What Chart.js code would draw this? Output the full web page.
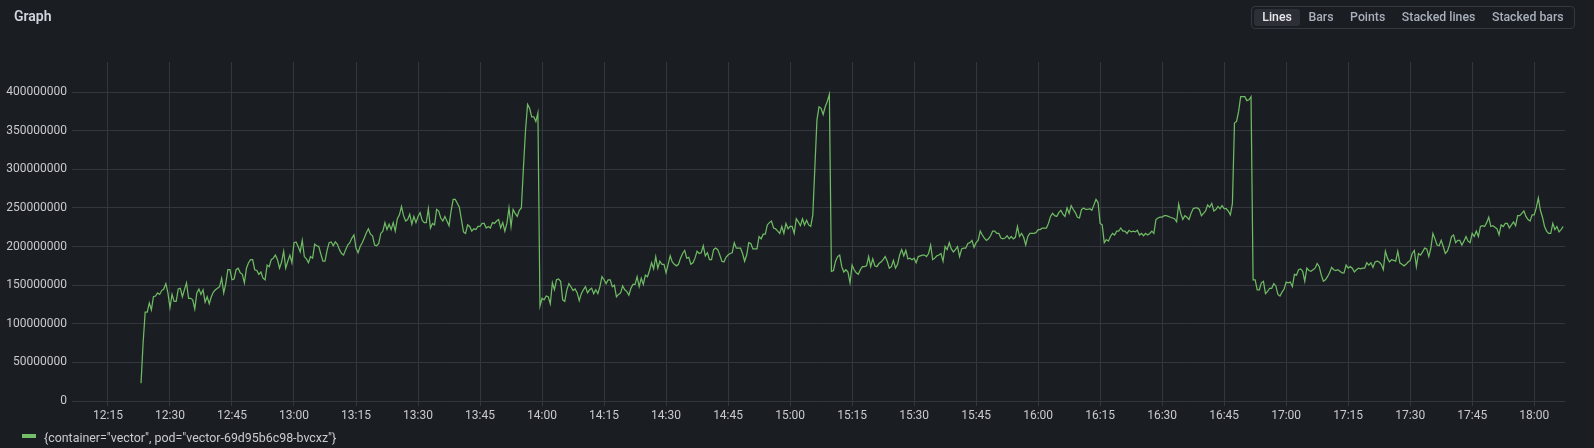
<!DOCTYPE html>
<html>
<head>
<meta charset="utf-8">
<script src="https://cdn.jsdelivr.net/npm/chart.js@4.4.1/dist/chart.umd.min.js"></script>
<style>
  html, body { margin: 0; padding: 0; background: #1a1d21; }
  body { width: 1594px; height: 448px; position: relative; overflow: hidden; font-family: Roboto, "Noto Sans", sans-serif; }
  #c { position: absolute; left: 0; top: 0; }
  #title { position: absolute; left: 14px; top: 8px; font-size: 14px; line-height: 16px; font-weight: 600; color: #d0d5de; }
  #seg { position: absolute; left: 1251px; top: 6px; height: 21px; border: 1px solid #35383e; border-radius: 4px; display: flex; align-items: center; padding: 0 2px; box-sizing: content-box; }
  #seg span { display: block; height: 17px; line-height: 17px; padding: 0 8.3px; font-size: 12.3px; font-weight: 500; color: #a9b0bc; border-radius: 3px; white-space: nowrap; }
  #seg span.active { background: #2c2f35; color: #e6e8ec; }
  #legend { position: absolute; left: 22px; top: 429px; height: 16px; display: flex; align-items: center; font-size: 12.4px; color: #c8cad0; }
  #legend i { display: block; width: 14px; height: 4px; background: #73bf69; margin-right: 8px; margin-top: -3px; }
</style>
</head>
<body>
<canvas id="c" width="1594" height="448"></canvas>
<div id="title">Graph</div>
<div id="seg"><span class="active">Lines</span><span>Bars</span><span>Points</span><span>Stacked lines</span><span>Stacked bars</span></div>
<div id="legend"><i></i><span id="legendText"></span></div>
<script>
// ---- data ----
const seriesLabel = '{container="vector", pod="vector-69d95b6c98-bvcxz"}';
const startTime = '12:23:00';
const stepSeconds = 30;
const xTickLabels = ['12:15','12:30','12:45','13:00','13:15','13:30','13:45','14:00','14:15','14:30','14:45','15:00','15:15','15:30','15:45','16:00','16:15','16:30','16:45','17:00','17:15','17:30','17:45','18:00'];
const yTickValues = [0, 50000000, 100000000, 150000000, 200000000, 250000000, 300000000, 350000000, 400000000];
const xRange = ['12:06:18', '18:07:27'];
const yMax = 439000000;
// memory values in millions of bytes, one every 30 s
const valuesMillions = [
23,75,115,115,127,118,135,136,140,138,143,145,152,140,121,138,129,129,145,146,
135,144,153,133,133,131,119,140,145,138,144,128,135,126,135,141,144,146,148,159,
140,152,170,170,157,158,170,172,166,164,153,172,179,183,183,170,169,164,167,159,
157,176,174,183,185,189,183,172,180,194,172,181,189,179,205,206,200,193,208,187,
184,179,187,185,203,201,200,190,181,181,195,205,206,201,206,203,196,191,189,196,
202,205,211,215,198,192,200,205,211,218,223,216,214,202,201,204,217,220,231,222,
229,222,231,220,236,241,252,240,233,235,242,229,239,231,239,244,234,231,231,249,
224,230,228,248,246,237,233,239,233,227,246,261,261,256,251,235,219,217,228,226,
220,223,222,226,226,230,230,224,226,224,231,230,233,235,224,231,220,230,250,226,
248,243,239,247,250,302,350,384,379,368,368,362,373,123,133,131,136,135,126,153,
144,157,158,155,131,129,144,152,148,143,145,140,130,139,144,148,140,144,146,139,
144,139,148,161,157,152,157,157,148,150,135,138,140,149,144,142,137,146,151,151,
161,148,159,151,163,161,169,179,171,187,172,181,177,177,166,177,188,180,177,175,
177,185,191,195,185,186,177,179,185,194,191,192,201,188,192,183,183,196,198,196,
189,181,180,186,189,191,192,205,198,198,198,191,181,189,205,204,197,197,197,213,
210,216,216,228,231,233,224,223,220,217,226,217,230,223,226,226,217,236,232,227,
236,228,234,228,226,241,303,364,381,379,371,381,388,397,168,169,181,187,189,174,
167,170,167,153,176,170,166,164,170,174,174,175,187,174,184,175,174,178,180,183,
187,181,172,174,182,172,177,189,196,188,195,184,185,183,185,179,187,188,189,189,
187,191,202,183,185,188,189,191,181,200,196,205,197,193,196,200,187,197,198,198,
204,205,208,199,205,208,220,215,211,208,210,214,220,220,217,217,211,210,211,214,
210,213,210,212,226,213,217,212,202,213,217,217,217,218,222,222,224,224,224,230,
239,243,240,239,244,247,242,239,250,243,253,248,244,238,237,248,250,248,248,249,
247,254,261,257,230,228,205,209,207,213,217,215,220,220,224,220,220,217,221,219,
220,219,221,215,217,214,217,215,217,220,217,235,237,238,238,240,240,239,238,237,
236,232,255,243,235,240,238,235,243,249,250,250,248,240,243,246,254,251,256,246,
248,252,249,253,249,249,246,241,256,360,362,375,394,394,394,389,390,394,157,157,
144,144,153,155,139,142,146,146,152,149,138,136,141,145,154,153,154,148,164,163,
170,171,168,155,172,169,168,170,172,178,174,163,155,157,161,166,173,170,169,170,
168,166,166,176,172,174,172,167,170,172,171,172,172,179,176,179,173,180,181,180,
177,170,194,185,180,183,182,181,194,179,177,175,177,180,182,191,195,174,191,189,
193,198,197,187,198,217,210,202,201,208,200,191,194,202,213,215,205,208,208,202,
207,213,207,205,217,213,220,213,226,227,226,231,238,226,227,225,223,215,228,226,
230,230,224,228,232,227,240,240,243,246,239,235,233,241,241,250,263,247,238,226,
220,217,217,230,222,226,219,222,226
];

// ---- helpers ----
function toMinutes(t) { const p = t.split(':').map(Number); return p[0] * 60 + p[1] + (p[2] || 0) / 60; }
function fmtMinutes(v) { const h = Math.floor(v / 60), m = Math.round(v - h * 60); return String(h).padStart(2, '0') + ':' + String(m).padStart(2, '0'); }

const start = toMinutes(startTime);
const points = valuesMillions.map((v, i) => ({ x: start + i * stepSeconds / 60, y: v * 1e6 }));

document.getElementById('legendText').textContent = seriesLabel;

const textColor = '#c8cad0';
const gridColor = '#33363c';
const font = { family: 'Roboto', size: 12 };

new Chart(document.getElementById('c').getContext('2d'), {
  type: 'line',
  data: {
    datasets: [{
      label: seriesLabel,
      data: points,
      borderColor: '#6fba64',
      borderWidth: 1.25,
      pointRadius: 0,
      tension: 0,
      fill: false
    }]
  },
  options: {
    responsive: false,
    animation: false,
    layout: { padding: { left: 0, right: 29, top: 62, bottom: 0 } },
    plugins: { legend: { display: false }, tooltip: { enabled: false } },
    scales: {
      x: {
        type: 'linear',
        min: toMinutes(xRange[0]),
        max: toMinutes(xRange[1]),
        afterBuildTicks: axis => { axis.ticks = xTickLabels.map(l => ({ value: toMinutes(l) })); },
        afterFit: s => { s.height = 47; },
        ticks: { color: textColor, font, padding: 3, maxRotation: 0, autoSkip: false, callback: v => fmtMinutes(v) },
        grid: { color: gridColor, tickLength: 5, drawTicks: true, lineWidth: 1 },
        border: { display: false }
      },
      y: {
        type: 'linear',
        min: 0,
        max: yMax,
        afterBuildTicks: axis => { axis.ticks = yTickValues.map(v => ({ value: v })); },
        afterFit: s => { s.width = 72; },
        ticks: { color: textColor, font, padding: 5, callback: v => String(v) },
        grid: { color: gridColor, drawTicks: false, lineWidth: 1 },
        border: { display: false }
      }
    }
  }
});
</script>
</body>
</html>
